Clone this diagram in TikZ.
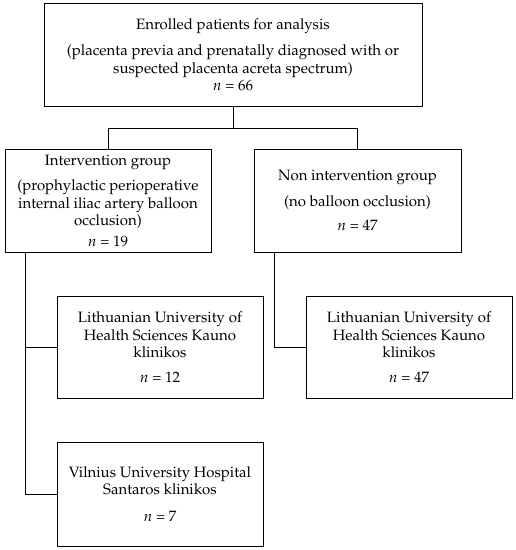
\documentclass[tikz,border=0pt]{standalone}
\usepackage[T1]{fontenc}
\usepackage{mathpazo}
\begin{document}
\begin{tikzpicture}[x=1pt,y=1pt,
  box/.style={draw, line width=1pt, align=center, inner sep=0pt,
    font=\fontsize{15}{17.5}\selectfont},
  link/.style={line width=1pt}]
\useasboundingbox (0,0) rectangle (516,-550);
\node[box, minimum width=378pt, minimum height=103pt] (top) at (233,-54.5)
  {Enrolled patients for analysis\\[9pt]
   (placenta previa and prenatally diagnosed with or\\
   suspected placenta acreta spectrum)\\
   $n$ = 66};
\node[box, minimum width=206pt, minimum height=103pt] (int) at (108,-200.5)
  {Intervention group\\[8pt]
   (prophylactic perioperative\\
   internal iliac artery balloon\\
   occlusion)\\[3pt]
   $n$ = 19};
\node[box, minimum width=207pt, minimum height=103pt] (non) at (357.5,-200.5)
  {Non intervention group\\[8pt]
   (no balloon occlusion)\\[7pt]
   $n$ = 47};
\node[box, minimum width=206pt, minimum height=102pt] (l1) at (160,-347)
  {Lithuanian University of\\
   Health Sciences Kauno\\
   klinikos\\[7pt]
   $n$ = 12};
\node[box, minimum width=206pt, minimum height=102pt] (l2) at (409,-347)
  {Lithuanian University of\\
   Health Sciences Kauno\\
   klinikos\\[7pt]
   $n$ = 47};
\node[box, minimum width=206pt, minimum height=104pt] (v) at (160,-494)
  {Vilnius University Hospital\\
   Santaros klinikos\\[9pt]
   $n$ = 7};
\coordinate (split) at ([yshift=-22pt]top.south);
\coordinate (ia) at ([xshift=21pt]int.south west);
\coordinate (na) at ([xshift=21pt]non.south west);
\draw[link] (top.south) -- (split);
\draw[link] (split) -| (int.north);
\draw[link] (split) -| (non.north);
\draw[link] (ia) |- (l1.west);
\draw[link] (ia) |- (v.west);
\draw[link] (na) |- (l2.west);
\end{tikzpicture}
\end{document}
